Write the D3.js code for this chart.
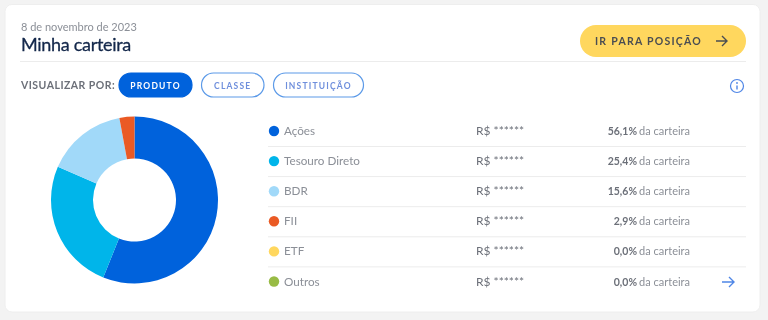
<!DOCTYPE html>
<html>
<head>
<meta charset="utf-8">
<script src="https://cdn.jsdelivr.net/npm/d3@7"></script>
<style>
  html, body { margin: 0; padding: 0; background: #f3f3f3; }
  svg { display: block; font-family: Lato, "Noto Sans", sans-serif; filter: blur(0.3px); }
</style>
</head>
<body>
<svg id="chart" width="768" height="320"></svg>
<script>
// Carteira por produto: donut on the left, table of the same rows on the right.
var categories = ['Ações', 'Tesouro Direto', 'BDR', 'FII', 'ETF', 'Outros'];
var shares = [56.1, 25.4, 15.6, 2.9, 0.0, 0.0];
var colors = ['#0062dc', '#00b5ea', '#a1d9f9', '#ea5a24', '#ffd75e', '#98bb45'];
var tabs = ['PRODUTO', 'CLASSE', 'INSTITUIÇÃO'];

var svg = d3.select('#chart');
var ink = '#14284b', grey = '#8b8f97', dim = '#6c7079', rule = '#ececec', accent = '#4f86e6';

function fmtPct(d) { return d.toFixed(1).replace('.', ',') + '%'; }

function arrow(g, x, y, w, stroke) {
    g.append('path')
        .attr('d', 'M' + x + ',' + y + 'H' + (x + w) + 'M' + (x + w - 5) + ',' + (y - 5) + 'L' + (x + w) + ',' + y + 'L' + (x + w - 5) + ',' + (y + 5))
        .attr('fill', 'none').attr('stroke', stroke).attr('stroke-width', 1.4);
}

// Card
svg.append('rect').attr('x', 5).attr('y', 4.5).attr('width', 755).attr('height', 307.5)
    .attr('rx', 7).attr('fill', '#fff').attr('stroke', '#eeeeee');

// Header
svg.append('text').attr('x', 21).attr('y', 31).attr('font-size', 11).attr('fill', grey).text('8 de novembro de 2023');
svg.append('text').attr('x', 21).attr('y', 51).attr('font-size', 18)
    .attr('letter-spacing', -0.3).attr('fill', ink).attr('stroke', ink).attr('stroke-width', 0.3)
    .text('Minha carteira');
svg.append('line').attr('x1', 20).attr('x2', 746).attr('y1', 61.5).attr('y2', 61.5).attr('stroke', rule);

// Yellow button
svg.append('rect').attr('x', 580).attr('y', 25).attr('width', 166).attr('height', 32).attr('rx', 16).attr('fill', '#ffd75e');
svg.append('text').attr('x', 595).attr('y', 44.5).attr('font-size', 10.5).attr('font-weight', 700)
    .attr('letter-spacing', 1.25).attr('fill', '#4a4d52').text('IR PARA POSIÇÃO');
arrow(svg, 716, 41, 11, '#4a4d52');

// View selector
svg.append('text').attr('x', 21).attr('y', 89).attr('font-size', 10.5).attr('font-weight', 700)
    .attr('letter-spacing', 0.48).attr('fill', dim).text('VISUALIZAR POR:');
var tabX = d3.scaleOrdinal().domain(tabs).range([119, 201.5, 273.5]);
var tabW = d3.scaleOrdinal().domain(tabs).range([73, 62.5, 90]);
var tab = svg.append('g').selectAll('g').data(tabs).join('g')
    .attr('transform', function (d) { return 'translate(' + tabX(d) + ',73)'; });
tab.append('rect')
    .attr('width', tabW).attr('height', 24).attr('rx', 12)
    .attr('fill', function (d, i) { return i === 0 ? '#0062dc' : '#fff'; })
    .attr('stroke', function (d, i) { return i === 0 ? '#0062dc' : '#5c9ae8'; })
    .attr('stroke-width', 1.2);
tab.append('text')
    .attr('x', function (d) { return tabW(d) / 2; }).attr('y', 15.5)
    .attr('text-anchor', 'middle').attr('font-size', 8.5).attr('font-weight', 700).attr('letter-spacing', 1.2)
    .attr('fill', function (d, i) { return i === 0 ? '#fff' : '#6f8fdc'; })
    .text(function (d) { return d; });

// Info icon
var info = svg.append('g').attr('transform', 'translate(737,86)');
info.append('circle').attr('r', 6.5).attr('fill', 'none').attr('stroke', accent).attr('stroke-width', 1.2);
info.append('line').attr('y1', -0.5).attr('y2', 3.5).attr('stroke', accent).attr('stroke-width', 1.4);
info.append('circle').attr('cy', -3).attr('r', 0.9).attr('fill', accent);

// Donut
var pie = d3.pie().sort(null).value(function (d) { return d; });
var arc = d3.arc().innerRadius(41.5).outerRadius(83.5);
svg.append('g').attr('transform', 'translate(134.5,200)')
    .selectAll('path').data(pie(shares)).join('path')
    .attr('d', arc)
    .attr('fill', function (d, i) { return colors[i]; });

// Table rows
var y = d3.scalePoint().domain(categories).range([131, 281.5]);
var row = svg.append('g').selectAll('g').data(categories).join('g')
    .attr('transform', function (d) { return 'translate(0,' + y(d) + ')'; });

row.filter(function (d, i) { return i < categories.length - 1; }).append('line')
    .attr('x1', 268).attr('x2', 746).attr('y1', 15.5).attr('y2', 15.5).attr('stroke', rule);
row.append('circle').attr('cx', 274).attr('cy', 0).attr('r', 5.2)
    .attr('fill', function (d, i) { return colors[i]; });
row.append('text').attr('x', 284).attr('y', 4).attr('font-size', 11.7).attr('fill', grey)
    .text(function (d) { return d; });
row.append('text').attr('x', 476).attr('y', 4).attr('font-size', 12).attr('fill', dim).text('R$ ******');
row.append('text').attr('x', 690).attr('y', 4).attr('text-anchor', 'end').attr('font-size', 11).attr('fill', grey)
    .text('da carteira');
row.append('text').attr('x', 637).attr('y', 4).attr('text-anchor', 'end').attr('font-size', 10.5)
    .attr('font-weight', 700).attr('fill', dim)
    .text(function (d, i) { return fmtPct(shares[i]); });

arrow(svg, 722, 282, 12, accent);
</script>
</body>
</html>
